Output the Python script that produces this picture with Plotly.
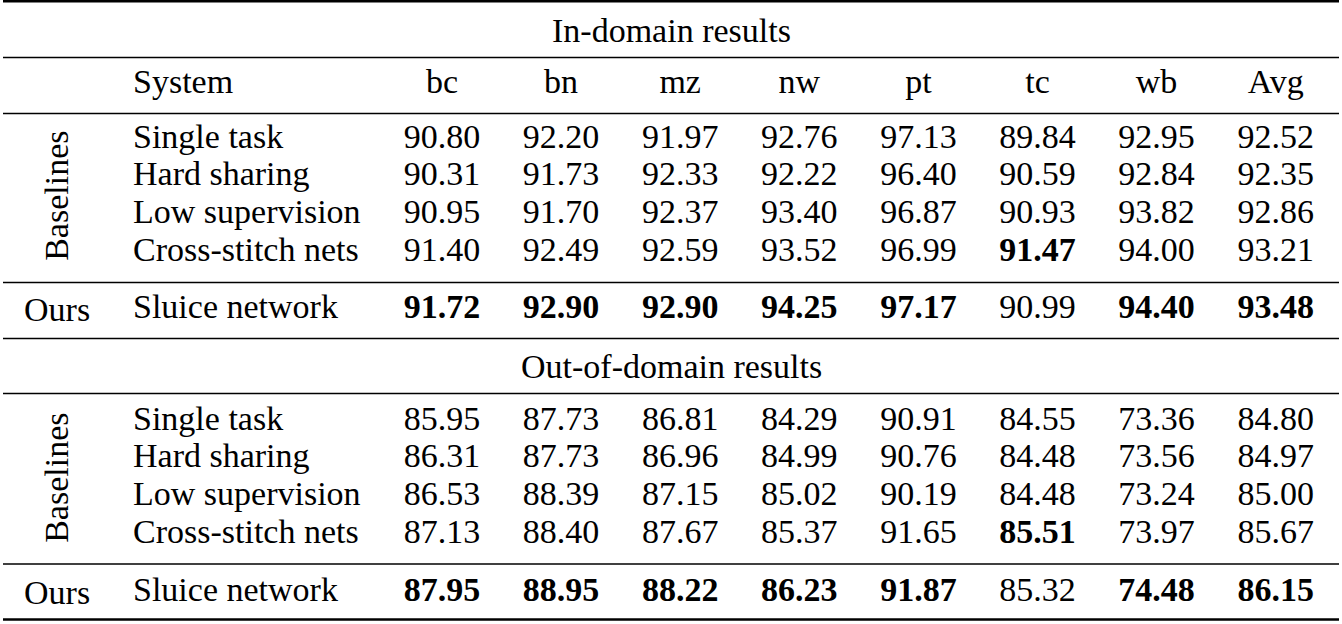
import plotly.graph_objects as go

# ---------------- data ----------------
domains = ["bc", "bn", "mz", "nw", "pt", "tc", "wb", "Avg"]
systems = ["Single task", "Hard sharing", "Low supervision", "Cross-stitch nets", "Sluice network"]
groups = ["Baselines", "Baselines", "Baselines", "Baselines", "Ours"]
section_titles = ["In-domain results", "Out-of-domain results"]
header_system = "System"

in_single = [90.80, 92.20, 91.97, 92.76, 97.13, 89.84, 92.95, 92.52]
in_hard = [90.31, 91.73, 92.33, 92.22, 96.40, 90.59, 92.84, 92.35]
in_low = [90.95, 91.70, 92.37, 93.40, 96.87, 90.93, 93.82, 92.86]
in_cross = [91.40, 92.49, 92.59, 93.52, 96.99, 91.47, 94.00, 93.21]
in_sluice = [91.72, 92.90, 92.90, 94.25, 97.17, 90.99, 94.40, 93.48]

out_single = [85.95, 87.73, 86.81, 84.29, 90.91, 84.55, 73.36, 84.80]
out_hard = [86.31, 87.73, 86.96, 84.99, 90.76, 84.48, 73.56, 84.97]
out_low = [86.53, 88.39, 87.15, 85.02, 90.19, 84.48, 73.24, 85.00]
out_cross = [87.13, 88.40, 87.67, 85.37, 91.65, 85.51, 73.97, 85.67]
out_sluice = [87.95, 88.95, 88.22, 86.23, 91.87, 85.32, 74.48, 86.15]

in_rows = [in_single, in_hard, in_low, in_cross, in_sluice]
out_rows = [out_single, out_hard, out_low, out_cross, out_sluice]

# ---------------- layout geometry ----------------
W, H = 1342, 624
FONT = "Liberation Serif"
FS = 34
X_LEFT, X_RIGHT = 3, 1339
X_GROUP = 57
X_SYSTEM = 133
X_COL0, X_STEP = 442, 119.1
ROW_STEP = 37.9

sections = [
    dict(title_y=30, header_y=84, row0=139, ours_y=309, rows=in_rows),
    dict(title_y=366, header_y=None, row0=421, ours_y=592, rows=out_rows),
]
thick_lines = [1.3, 619.5]
thin_lines = [57.5, 113.5, 282.5, 338.5, 393.5, 564]

col_x = [X_COL0 + i * X_STEP for i in range(len(domains))]
tfont = dict(family=FONT, size=FS, color="black")

fig = go.Figure()
annotations = []

for sec_i, sec in enumerate(sections):
    rows = sec["rows"]
    ys = [sec["row0"] + k * ROW_STEP for k in range(4)] + [sec["ours_y"]]
    col_max = [max(r[j] for r in rows) for j in range(len(domains))]
    xs, yy, tx = [], [], []
    for k, r in enumerate(rows):
        for j, v in enumerate(r):
            s = f"{v:.2f}"
            if abs(v - col_max[j]) < 1e-9:
                s = f"<b>{s}</b>"
            xs.append(col_x[j]); yy.append(ys[k]); tx.append(s)
    fig.add_trace(go.Scatter(x=xs, y=yy, text=tx, mode="text",
                             textposition="middle center", textfont=tfont,
                             hoverinfo="skip", showlegend=False))
    fig.add_trace(go.Scatter(x=[X_SYSTEM] * len(systems), y=ys, text=systems, mode="text",
                             textposition="middle right", textfont=tfont,
                             hoverinfo="skip", showlegend=False))
    annotations.append(dict(x=(X_LEFT + X_RIGHT) / 2, y=sec["title_y"], text=section_titles[sec_i],
                            showarrow=False, xanchor="center", yanchor="middle", font=tfont))
    if sec["header_y"] is not None:
        fig.add_trace(go.Scatter(x=col_x, y=[sec["header_y"]] * len(domains), text=domains,
                                 mode="text", textposition="middle center", textfont=tfont,
                                 hoverinfo="skip", showlegend=False))
        fig.add_trace(go.Scatter(x=[X_SYSTEM], y=[sec["header_y"]], text=[header_system],
                                 mode="text", textposition="middle right", textfont=tfont,
                                 hoverinfo="skip", showlegend=False))
    base_center = (ys[0] + ys[3]) / 2
    annotations.append(dict(x=X_GROUP, y=base_center, text=groups[0], textangle=-90,
                            showarrow=False, xanchor="center", yanchor="middle", font=tfont))
    annotations.append(dict(x=X_GROUP, y=ys[4], text=groups[4],
                            showarrow=False, xanchor="center", yanchor="middle", font=tfont))

shapes = []
for y in thick_lines:
    shapes.append(dict(type="line", xref="x", yref="y", x0=X_LEFT, x1=X_RIGHT, y0=y, y1=y,
                       line=dict(color="black", width=2.6)))
for y in thin_lines:
    shapes.append(dict(type="line", xref="x", yref="y", x0=X_LEFT, x1=X_RIGHT, y0=y, y1=y,
                       line=dict(color="black", width=1.4)))

fig.update_layout(
    width=W, height=H,
    margin=dict(l=0, r=0, t=0, b=0),
    paper_bgcolor="white", plot_bgcolor="white",
    font=dict(family=FONT),
    xaxis=dict(range=[0, W], visible=False, fixedrange=True),
    yaxis=dict(range=[H, 0], visible=False, fixedrange=True),
    shapes=shapes, annotations=annotations,
)

fig.write_html("out.html", config={"displayModeBar": False},
               post_script="document.body.style.margin='0';document.body.style.overflow='hidden';")
